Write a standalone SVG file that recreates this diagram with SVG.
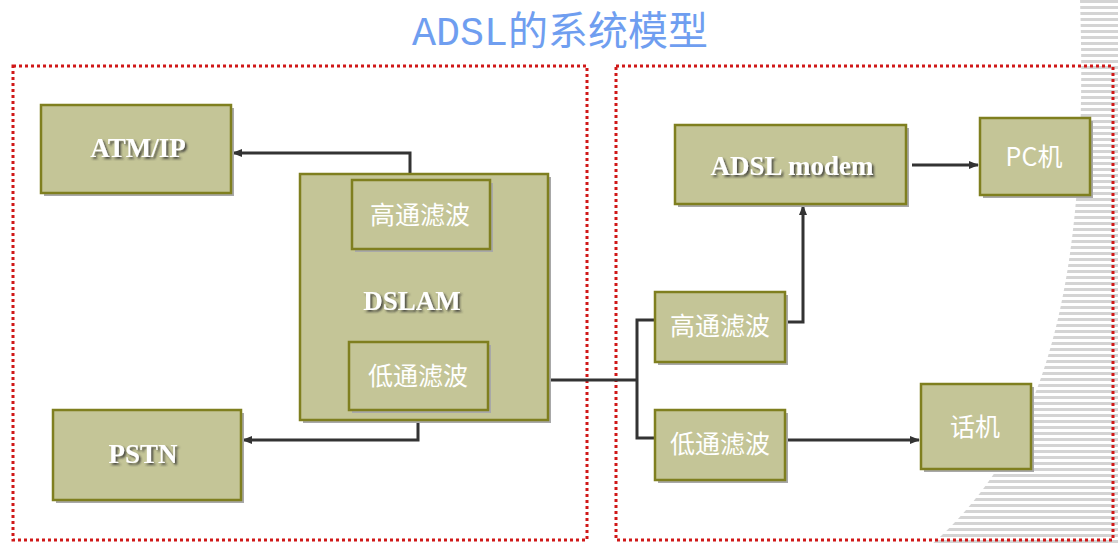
<svg xmlns="http://www.w3.org/2000/svg" width="1118" height="546" viewBox="0 0 1118 546">
<defs>
<pattern id="hatch" width="10" height="6" patternUnits="userSpaceOnUse"><rect width="10" height="3" fill="#d4d4d4"/></pattern>
<marker id="arr" markerWidth="10" markerHeight="8" refX="9" refY="4" orient="auto" markerUnits="userSpaceOnUse"><path d="M0,0 L10,4 L0,8 Z" fill="#333"/></marker>
<filter id="ts"><feDropShadow dx="2" dy="2" stdDeviation="1" flood-color="#333" flood-opacity="0.8"/></filter>
</defs>
<style>
.box{fill:#c4c597;stroke:#7f7f1f;stroke-width:2.5}
.sh{fill:#a8a8a8}
.frame{fill:none;stroke:#d01818;stroke-width:3;stroke-dasharray:3 3}
.b{font-family:"Liberation Serif",serif;font-weight:bold;font-size:27px;fill:#fff;text-anchor:middle;filter:url(#ts)}
.c{font-family:"Noto Sans CJK SC",sans-serif;font-size:25px;fill:#fff;text-anchor:middle}
.ln{fill:none;stroke:#333;stroke-width:3}
</style>
<rect width="1118" height="546" fill="#fff"/>
<path d="M1080,0 L1118,0 L1118,546 L930,546 C1040,450 1090,300 1080,0 Z" fill="url(#hatch)"/>
<text x="560" y="45" font-family="Liberation Mono,'Noto Sans CJK SC',monospace" font-size="40" fill="#6f9ef0" text-anchor="middle">ADSL的系统模型</text>
<rect class="frame" x="13" y="66" width="574" height="474"/>
<rect class="frame" x="616" y="66" width="497" height="474"/>
<g id="connectors">
<polyline class="ln" points="410,180 410,153 233,153" marker-end="url(#arr)"/>
<polyline class="ln" points="418,410 418,440 243,440" marker-end="url(#arr)"/>
<polyline class="ln" points="548,380 637,380"/>
<polyline class="ln" points="655,320 637,320 637,438 655,438"/>
<polyline class="ln" points="787,322 803,322 803,206" marker-end="url(#arr)"/>
<polyline class="ln" points="912,165 978,165" marker-end="url(#arr)"/>
<polyline class="ln" points="787,440 919,440" marker-end="url(#arr)"/>
</g>
<g id="atm"><rect class="sh" x="44" y="108" width="190" height="88"/><rect class="box" x="41" y="105" width="190" height="88"/><text class="b" x="138" y="157">ATM/IP</text></g>
<g id="dslam"><rect class="sh" x="303" y="177" width="248" height="246"/><rect class="box" x="300" y="174" width="248" height="246"/><text class="b" x="412" y="310">DSLAM</text></g>
<g id="hp1"><rect class="sh" x="355" y="183" width="138" height="69"/><rect class="box" x="352" y="180" width="138" height="69"/><text class="c" x="420" y="224">高通滤波</text></g>
<g id="lp1"><rect class="sh" x="352" y="345" width="139" height="68"/><rect class="box" x="349" y="342" width="139" height="68"/><text class="c" x="418" y="385">低通滤波</text></g>
<g id="pstn"><rect class="sh" x="56" y="413" width="188" height="90"/><rect class="box" x="53" y="410" width="188" height="90"/><text class="b" x="143" y="463">PSTN</text></g>
<g id="modem"><rect class="sh" x="678" y="128" width="231" height="79"/><rect class="box" x="675" y="125" width="231" height="79"/><text class="b" x="792" y="175">ADSL modem</text></g>
<g id="pc"><rect class="sh" x="983" y="121" width="110" height="77"/><rect class="box" x="980" y="118" width="110" height="77"/><text class="c" x="1034" y="166" font-family="'Liberation Serif','Noto Sans CJK SC',serif" font-size="27">PC机</text></g>
<g id="hp2"><rect class="sh" x="658" y="295" width="130" height="70"/><rect class="box" x="655" y="292" width="130" height="70"/><text class="c" x="720" y="335">高通滤波</text></g>
<g id="lp2"><rect class="sh" x="658" y="413" width="130" height="70"/><rect class="box" x="655" y="410" width="130" height="70"/><text class="c" x="720" y="453">低通滤波</text></g>
<g id="phone"><rect class="sh" x="924" y="387" width="110" height="85"/><rect class="box" x="921" y="384" width="110" height="85"/><text class="c" x="975" y="436">话机</text></g>
</svg>
